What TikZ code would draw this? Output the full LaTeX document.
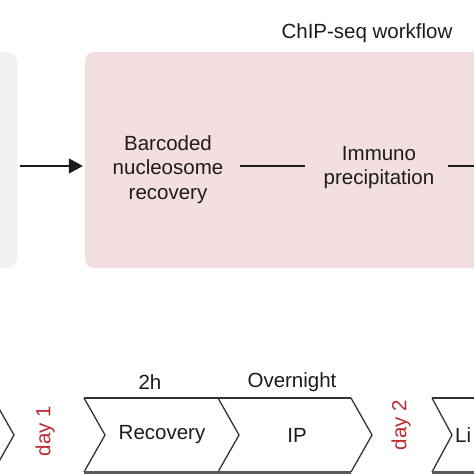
\documentclass[tikz,border=0pt]{standalone}
\usepackage{fontspec}
\setmainfont{Liberation Sans}
\usetikzlibrary{arrows.meta}
\definecolor{pinkbg}{HTML}{F3DFDF}
\definecolor{greybg}{HTML}{F0F2F2}
\definecolor{dayred}{HTML}{BE2A2F}
\definecolor{ink}{HTML}{1C1C1C}
\definecolor{edge}{HTML}{333333}
\definecolor{base}{HTML}{5A5A5A}
\begin{document}
\begin{tikzpicture}[x=1pt,y=-1pt,
  font=\fontsize{20.5}{24.8}\selectfont,
  panel/.style={rounded corners=9pt, draw=none, inner sep=0pt},
  lbl/.style={text=ink, align=center, inner sep=0pt},
  daylbl/.style={text=dayred, rotate=90, inner sep=0pt},
  conn/.style={draw=ink, line width=1.3pt},
  arr/.style={draw=ink, line width=1.5pt, -{Triangle[length=14pt,width=15pt]}},
  chev/.style={draw=edge, line width=1.3pt, line join=miter},
  chevbase/.style={draw=base, line width=3pt}]
\useasboundingbox (0,0) rectangle (474,474);
\clip (0,0) rectangle (474,474);
% panels
\node[panel, fill=greybg, minimum width=80pt, minimum height=216pt] (prev) at (-23,160) {};
\node[panel, fill=pinkbg, minimum width=460pt, minimum height=216pt] (pink) at (315,160) {};
\node[lbl] (title) at (367,33) {ChIP-seq workflow};
% steps
\node[lbl] (barcoded) at (168,169.5) {Barcoded\\nucleosome\\recovery};
\node[lbl] (immuno) at (379,167.5) {Immuno\\precipitation};
\coordinate (next) at (500,166);
\draw[arr, shorten <=3pt, shorten >=2pt] (prev.east |- 0,166) -- (pink.west |- 0,166);
\draw[conn, shorten <=17pt, shorten >=19pt] (barcoded.east |- 0,166) -- (immuno.west |- 0,166);
\draw[conn, shorten <=14pt] (immuno.east |- 0,166) -- (next);
% timeline chevrons
\draw[chev] (-7,398) -- (14,435) -- (-7,472);
\draw[chev] (84,398) -- (351,398);
\draw[chev] (84,398) -- (105,435) -- (84,472);
\draw[chev] (218,398) -- (239,435) -- (218,472);
\draw[chev] (351,398) -- (372,435) -- (351,472);
\draw[chev] (432,398) -- (500,398);
\draw[chev] (432,398) -- (452,435) -- (432,472);
\draw[chevbase] (84,472.5) -- (351,472.5);
\draw[chevbase] (432,472.5) -- (500,472.5);
\node[lbl] (recovery) at (162,435) {Recovery};
\node[lbl] (ip) at (297,435) {IP};
\node[lbl, anchor=west] (lib) at (455,435) {Li};
\node[lbl] (t2h) at (150,382) {2h};
\node[lbl] (tover) at (292,382) {Overnight};
\node[daylbl] (day1) at (45,431) {day 1};
\node[daylbl] (day2) at (401,425) {day 2};
\end{tikzpicture}
\end{document}
